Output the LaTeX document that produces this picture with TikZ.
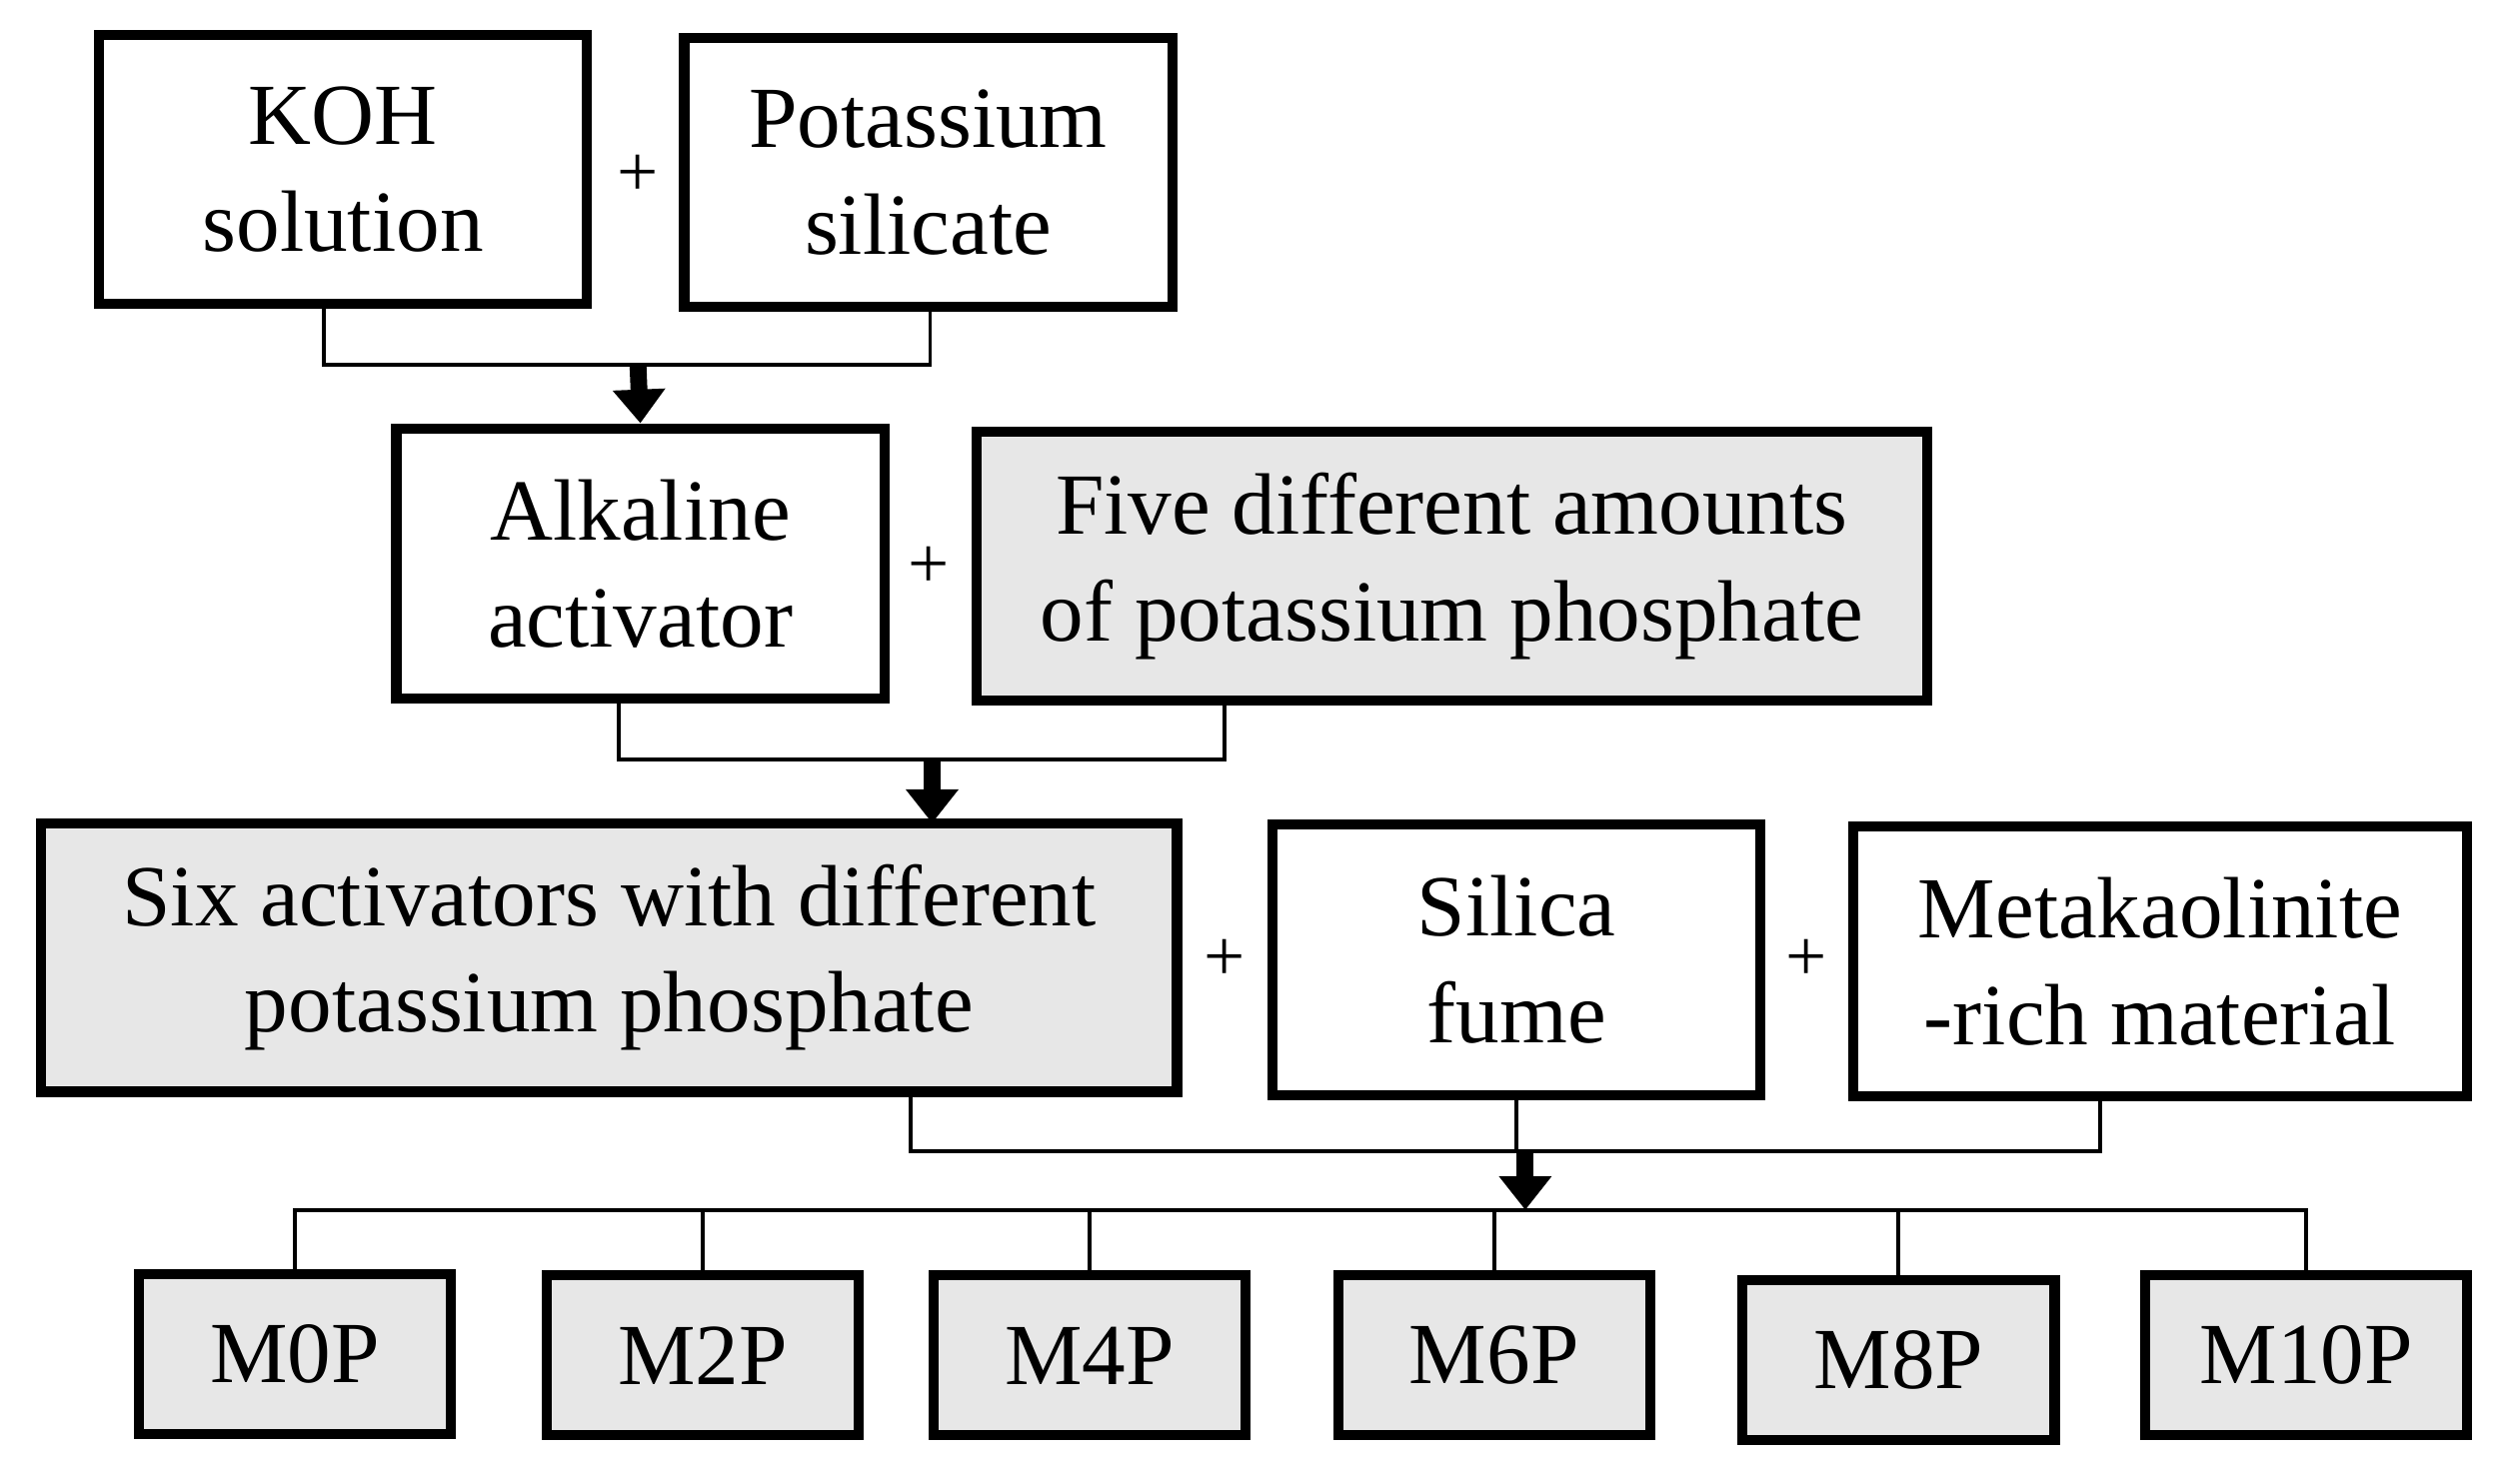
\documentclass[tikz,border=0pt]{standalone}
\usepackage{fontspec}
\setmainfont{Liberation Serif}
\usetikzlibrary{arrows.meta,calc}
\definecolor{boxgray}{RGB}{231,231,231}
\begin{document}
\begin{tikzpicture}[x=0.01cm,y=-0.01cm,
  box/.style={draw,line width=1.8pt,inner sep=0pt,align=center,font=\fontsize{15.5}{19}\selectfont},
  gbox/.style={box,fill=boxgray},
  conn/.style={line width=0.7pt},
  big/.style={line width=3pt,-{Triangle[width=9pt,length=6pt]}},
  plus/.style={font=\fontsize{13}{15}\selectfont}]
\useasboundingbox (0,0) rectangle (1568,928);
\node[box,minimum width=3.05cm,minimum height=1.68cm] (koh) at (214.5,106) {KOH\\solution};
\node[box,minimum width=3.05cm,minimum height=1.68cm] (ps) at (580.5,108) {Potassium\\silicate};
\node[plus] (p1) at (399,110) {+};
\node[box,minimum width=3.05cm,minimum height=1.69cm] (alk) at (400.5,352.5) {Alkaline\\activator};
\node[gbox,minimum width=5.94cm,minimum height=1.68cm] (five) at (908,354) {Five different amounts\\of potassium phosphate};
\node[plus] (p2) at (581,355) {+};
\node[gbox,minimum width=7.10cm,minimum height=1.68cm] (six) at (381,599) {Six activators with different\\potassium phosphate};
\node[box,minimum width=3.05cm,minimum height=1.69cm] (sf) at (948.5,600.5) {Silica\\fume};
\node[box,minimum width=3.84cm,minimum height=1.69cm] (mk) at (1351,601.5) {Metakaolinite\\-rich material};
\node[plus] (p3) at (766,601) {+};
\node[plus] (p4) at (1130,601) {+};
\foreach \n/\t/\x/\y/\w in {m0/M0P/184.5/847/1.95, m2/M2P/439.5/848/1.95, m4/M4P/681.5/848/1.95, m6/M6P/934.5/848/1.95, m8/M8P/1187.5/851/1.95, m10/M10P/1442.5/848/2.01}
  \node[gbox,minimum width=\w cm,minimum height=1.0cm] (\n) at (\x,\y) {\t};
% connectors
\coordinate (j1) at (399,228);
\draw[conn] ($(koh.south west)+(144,0)$) |- (j1) -| ($(ps.south west)+(157,0)$);
\draw[big] (j1) -- (alk.north);
\coordinate (j2) at (583,475);
\draw[conn] ($(alk.south west)+(142,0)$) |- (j2) -| ($(five.south west)+(158,0)$);
\draw[big] (j2) -- (583,515);
\coordinate (j3) at (954,720);
\draw[conn] ($(six.south west)+(547,0)$) |- (j3) -| ($(mk.south west)+(158,0)$);
\draw[conn] (sf.south) -- (sf.south |- j3);
\coordinate (j4) at (954,757);
\draw[big] (j3) -- (j4);
\draw[conn] (m0.north) |- (j4) -| (m10.north);
\foreach \n in {m2,m4,m6,m8} \draw[conn] (\n.north) -- (\n.north |- j4);
\end{tikzpicture}
\end{document}
